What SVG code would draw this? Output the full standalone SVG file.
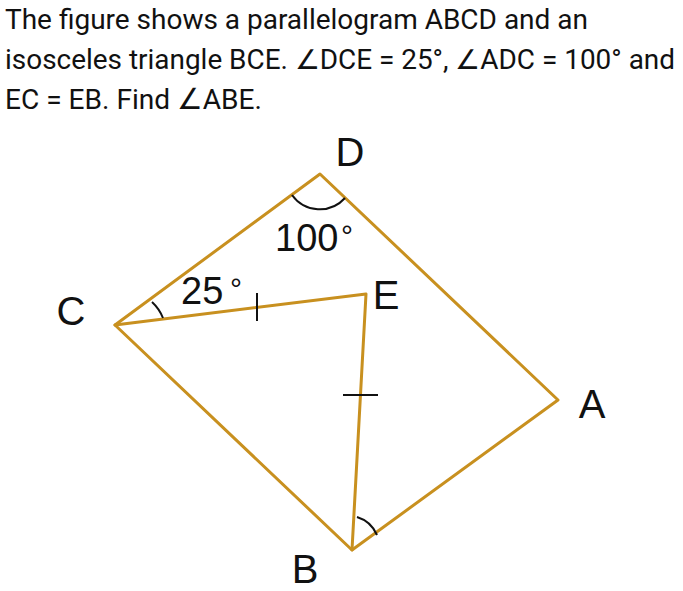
<svg xmlns="http://www.w3.org/2000/svg" width="683" height="591" viewBox="0 0 683 591">
<style>
.t{font-family:Roboto,"Liberation Sans",sans-serif;font-size:28.5px;fill:#111}
.lbl{font-family:"Liberation Sans",Arial,sans-serif;font-size:40px;fill:#111;text-anchor:middle}
.ang{font-family:"Liberation Sans",Arial,sans-serif;font-size:38px;fill:#111}
.deg{font-family:"Liberation Sans",Arial,sans-serif;font-size:30px;fill:#111}
.edge{stroke:#c8901f;stroke-width:3;fill:none;stroke-linejoin:round;stroke-linecap:round}
.mark{stroke:#111;stroke-width:2;fill:none}
</style>
<rect width="683" height="591" fill="#fff"/>
<g id="title">
<text class="t" x="5" y="29" textLength="583" lengthAdjust="spacingAndGlyphs">The figure shows a parallelogram ABCD and an</text>
<text class="t" x="5" y="69" style="font-size:27px" textLength="670" lengthAdjust="spacingAndGlyphs">isosceles triangle BCE. ∠DCE = 25°, ∠ADC = 100° and</text>
<text class="t" x="5" y="109" textLength="257" lengthAdjust="spacingAndGlyphs">EC = EB. Find ∠ABE.</text>
</g>
<g id="connectors">
<path class="edge" d="M320,174 L558,400 L352,550 L115,325 Z"/>
<path class="edge" d="M115,325 L366,294 L352,550"/>
</g>
<g id="marks">
<path class="mark" d="M292,195 A34,34 0 0 0 345,198"/>
<path class="mark" d="M152,302 A44,44 0 0 1 163,318"/>
<path class="mark" d="M357,517 A32,32 0 0 1 377,535"/>
<line class="mark" x1="257" y1="293" x2="257" y2="321"/>
<line class="mark" x1="343" y1="395" x2="378" y2="395"/>
</g>
<g id="D"><text class="lbl" x="350" y="166">D</text></g>
<g id="C"><text class="lbl" x="71" y="325">C</text></g>
<g id="E"><text class="lbl" x="386" y="309">E</text></g>
<g id="A"><text class="lbl" x="592" y="418">A</text></g>
<g id="B"><text class="lbl" x="305" y="583">B</text></g>
<g id="angle100"><text class="ang" x="275" y="251">100</text><text class="deg" x="341" y="246">°</text></g>
<g id="angle25"><text class="ang" x="181" y="304">25</text><text class="deg" x="230" y="299">°</text></g>
</svg>
